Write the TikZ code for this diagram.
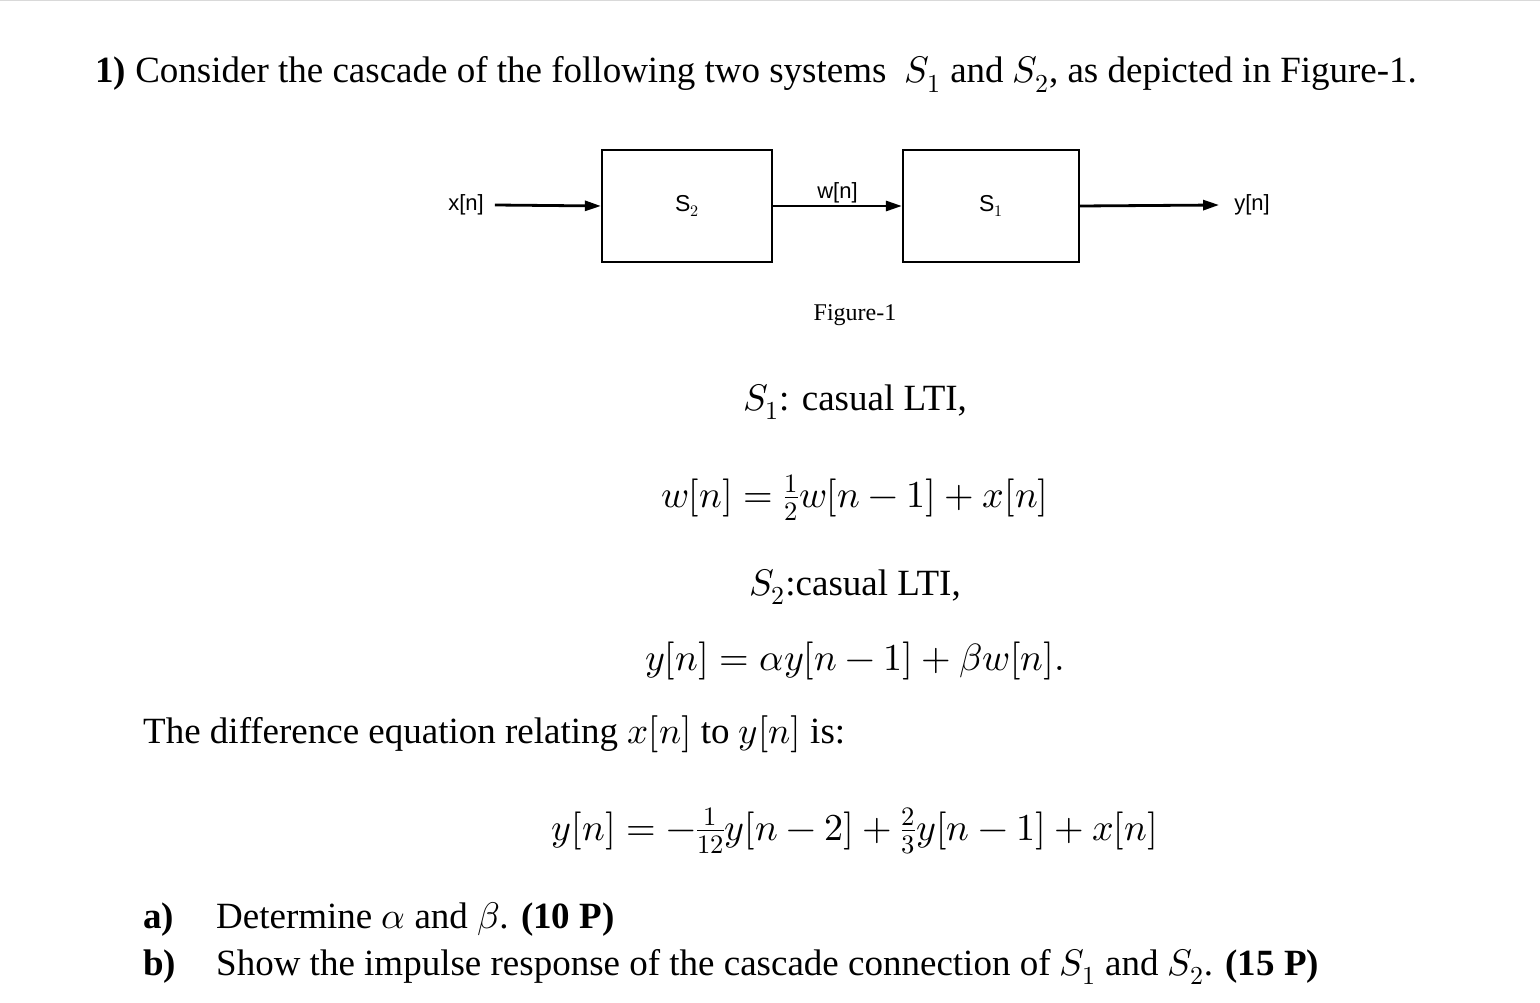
\documentclass[tikz,border=0pt]{standalone}
\usepackage{unicode-math}
\setmainfont{Liberation Serif}
\setsansfont{Liberation Sans}
\setmathfont{Latin Modern Math}
\usetikzlibrary{arrows.meta}
\begin{document}
\begin{tikzpicture}[x=1pt,y=-1pt,
  txt/.style={anchor=base west,inner sep=0pt,font=\fontsize{37}{42}\selectfont},
  ctr/.style={anchor=base,inner sep=0pt,font=\fontsize{37}{42}\selectfont},
  eqn/.style={anchor=base,inner sep=0pt,font=\fontsize{38}{44}\selectfont},
  blk/.style={draw,line width=2.2pt,minimum width=170pt,minimum height=112pt,font=\sffamily\fontsize{23}{26}\selectfont},
  lab/.style={inner sep=1pt,font=\sffamily\fontsize{22}{26}\selectfont},
  arr/.style={-{Triangle[length=16pt,width=10pt]},line width=2.8pt}]
\fill[white] (0,0) rectangle (1540,1003);
\useasboundingbox (0,0) rectangle (1540,1003);
\draw[gray!30,line width=1pt] (0,1) -- (1540,1);
\node[txt] (t1) at (95,83) {\textbf{1)}\ Consider the cascade of the following two systems\ \ $S_1$ and $S_2$, as depicted in Figure-1.};
\node[blk] (s2) at (687,206) {S$_2$};
\node[blk,minimum width=176pt] (s1) at (991,206) {S$_1$};
\node[lab] (x) at (466,205) {x[n]};
\node[lab] (y) at (1252,205) {y[n]};
\draw[arr] (x.east)++(10,0) coordinate (xs) -- (s2.west);
\draw[arr] (s2.east) -- node[lab,above=1pt] (w) {w[n]} (s1.west);
\draw[arr] (s1.east) -- ([xshift=-14pt]y.west);
\node[anchor=base,font=\fontsize{24}{28}\selectfont] (fig) at (855,320) {Figure-1};
\node[ctr] (e1) at (855,410) {$S_1$: casual LTI,};
\node[eqn] (e2) at (855,507) {$w[n]=\frac{1}{2}w[n-1]+x[n]$};
\node[ctr] (e3) at (855,595) {$S_2$:casual LTI,};
\node[eqn] (e4) at (855,670) {$y[n]=\alpha y[n-1]+\beta w[n].$};
\node[txt] (e5) at (143,743) {The difference equation relating $x[n]$ to $y[n]$ is:};
\node[eqn] (e6) at (855,840) {$y[n]=-\frac{1}{12}y[n-2]+\frac{2}{3}y[n-1]+x[n]$};
\node[txt] (a) at (143,928) {\textbf{a)}};
\node[txt] (at) at (216,928) {Determine $\alpha$ and $\beta$. \textbf{(10 P)}};
\node[txt] (b) at (143,975) {\textbf{b)}};
\node[txt] (bt) at (216,975) {Show the impulse response of the cascade connection of $S_1$ and $S_2$. \textbf{(15 P)}};
\end{tikzpicture}
\end{document}
